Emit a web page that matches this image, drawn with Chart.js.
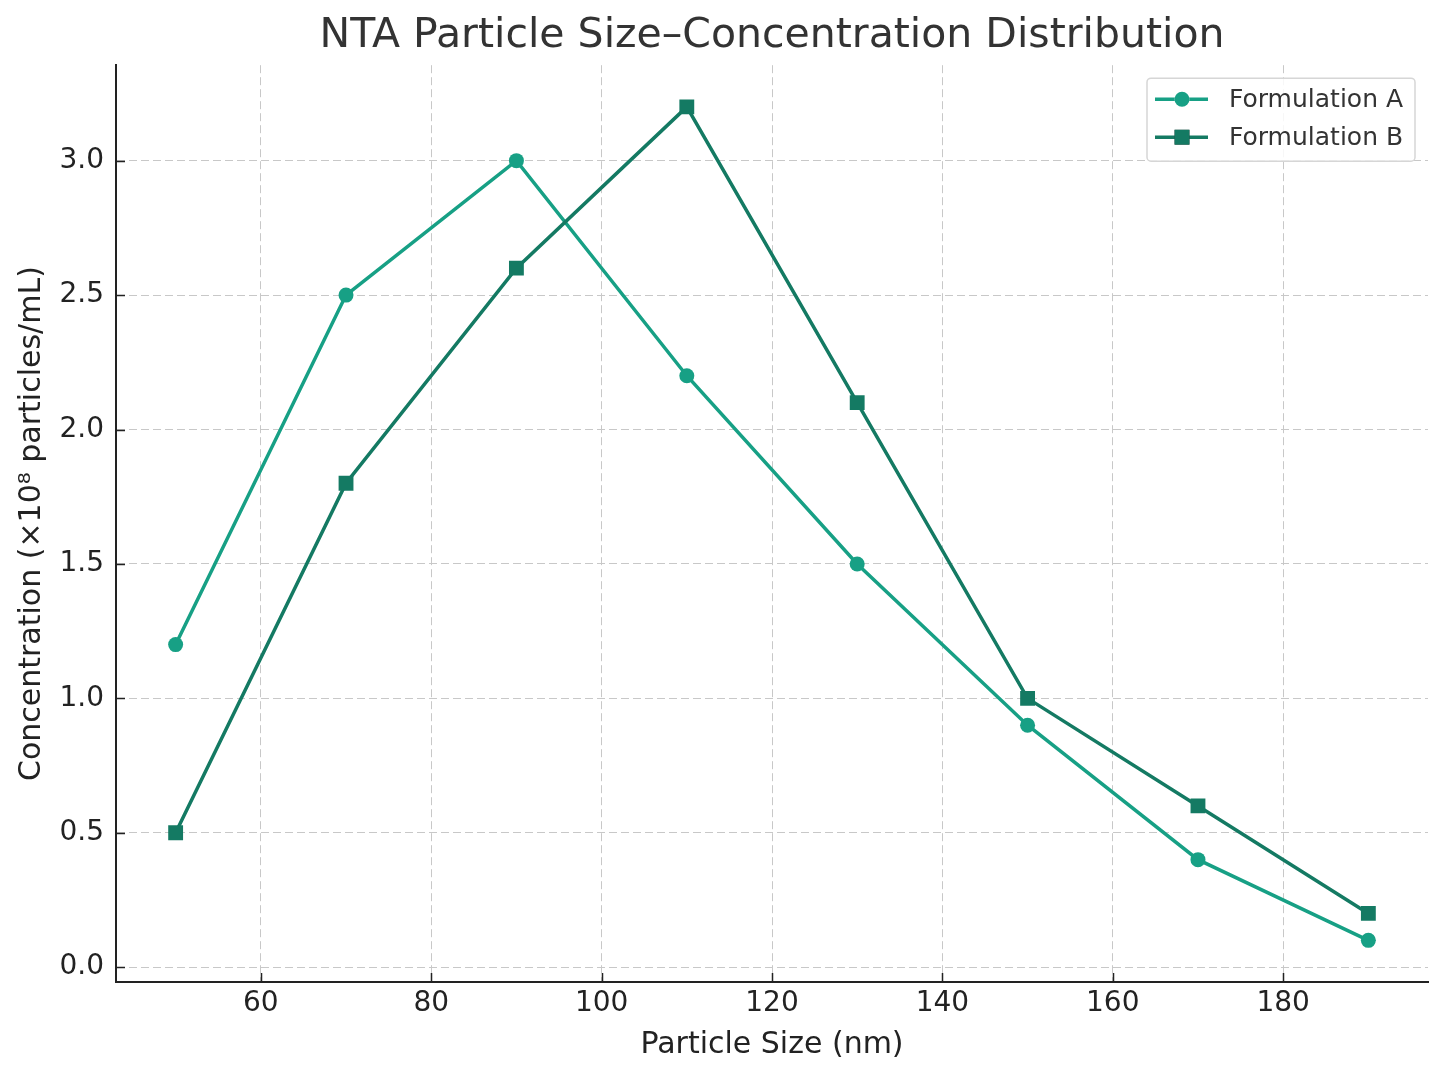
<!DOCTYPE html>
<html>
<head>
<meta charset="utf-8">
<script src="https://cdn.jsdelivr.net/npm/chart.js@4/dist/chart.umd.min.js"></script>
<style>
  html, body { margin: 0; padding: 0; background: #fff; }
  #wrap { width: 1446px; height: 1080px; }
</style>
</head>
<body>
<div id="wrap"><canvas id="chart" width="1446" height="1080"></canvas></div>
<script>
const sizes = [50, 70, 90, 110, 130, 150, 170, 190];
const formulationA = [1.2, 2.5, 3.0, 2.2, 1.5, 0.9, 0.4, 0.1];
const formulationB = [0.5, 1.8, 2.6, 3.2, 2.1, 1.0, 0.6, 0.2];
const xTicks = [60, 80, 100, 120, 140, 160, 180];
const yTicks = [0, 0.5, 1.0, 1.5, 2.0, 2.5, 3.0];

const FONT = "'DejaVu Sans', sans-serif";
const colorA = '#17a085';
const colorB = '#147a63';

function toPoints(ys) {
    return sizes.map((x, i) => ({ x: x, y: ys[i] }));
}

// small tick marks pointing into the plot, like the original
const innerTicks = {
    id: 'innerTicks',
    afterDraw(chart) {
        const ctx = chart.ctx;
        const area = chart.chartArea;
        const xs = chart.scales.x, ys = chart.scales.y;
        ctx.save();
        ctx.strokeStyle = '#222';
        ctx.lineWidth = 1.5;
        ctx.beginPath();
        xTicks.forEach(v => {
            const px = Math.round(xs.getPixelForValue(v)) + 0.5;
            ctx.moveTo(px, area.bottom);
            ctx.lineTo(px, area.bottom - 9);
        });
        yTicks.forEach(v => {
            const py = Math.round(ys.getPixelForValue(v)) + 0.5;
            ctx.moveTo(area.left, py);
            ctx.lineTo(area.left + 9, py);
        });
        ctx.stroke();
        ctx.restore();
    }
};

// matplotlib-like legend box in the upper right of the plot area
const boxLegend = {
    id: 'boxLegend',
    afterDatasetsDraw(chart) {
        const ctx = chart.ctx;
        const area = chart.chartArea;
        const sets = chart.data.datasets;
        const w = 268, h = 83;
        const x0 = area.right - 13 - w;
        const y0 = area.top + 13;
        ctx.save();
        ctx.beginPath();
        ctx.roundRect(x0, y0, w, h, 4);
        ctx.fillStyle = 'rgba(255,255,255,0.85)';
        ctx.fill();
        ctx.strokeStyle = '#d6d6d6';
        ctx.lineWidth = 1.5;
        ctx.stroke();
        ctx.font = '25px ' + FONT;
        ctx.textBaseline = 'middle';
        sets.forEach((ds, i) => {
            const cy = y0 + 21 + i * 38;
            ctx.strokeStyle = ds.borderColor;
            ctx.lineWidth = ds.borderWidth;
            ctx.beginPath();
            ctx.moveTo(x0 + 8, cy);
            ctx.lineTo(x0 + 61, cy);
            ctx.stroke();
            Chart.helpers.drawPoint(ctx, {
                pointStyle: ds.pointStyle,
                radius: ds.pointRadius,
                borderWidth: 0
            }, x0 + 35, cy);
            ctx.fillStyle = ds.backgroundColor;
            ctx.fill();
            ctx.fillStyle = '#333';
            ctx.fillText(ds.label, x0 + 82, cy + 1);
        });
        ctx.restore();
    }
};

new Chart(document.getElementById('chart'), {
    type: 'line',
    data: {
        datasets: [
            {
                label: 'Formulation A',
                data: toPoints(formulationA),
                borderColor: colorA,
                backgroundColor: colorA,
                borderWidth: 3.5,
                pointStyle: 'circle',
                pointRadius: 7.5,
                pointBorderWidth: 0,
                order: 1
            },
            {
                label: 'Formulation B',
                data: toPoints(formulationB),
                borderColor: colorB,
                backgroundColor: colorB,
                borderWidth: 3.5,
                pointStyle: 'rect',
                pointRadius: 10.5,
                pointBorderWidth: 0,
                order: 0
            }
        ]
    },
    options: {
        responsive: false,
        animation: false,
        layout: { padding: { left: 0, right: 18, top: 0, bottom: 0 } },
        plugins: {
            legend: { display: false },
            tooltip: { enabled: false },
            title: {
                display: true,
                fullSize: false,
                text: 'NTA Particle Size\u2013Concentration Distribution',
                color: '#333',
                font: { family: FONT, size: 41, weight: 'normal', lineHeight: 1.2 },
                padding: { top: 12, bottom: 4 }
            }
        },
        scales: {
            x: {
                type: 'linear',
                min: 43,
                max: 197,
                afterBuildTicks: s => { s.ticks = xTicks.map(v => ({ value: v })); },
                afterFit: s => { s.height = 98; },
                grid: { color: '#c8c8c8', lineWidth: 1, drawTicks: false },
                border: { display: true, color: '#222', width: 2, dash: [8, 4] },
                ticks: { color: '#222', font: { family: FONT, size: 28 }, padding: 5, maxRotation: 0 },
                title: {
                    display: true,
                    text: 'Particle Size (nm)',
                    color: '#222',
                    font: { family: FONT, size: 30 },
                    padding: { top: 4, bottom: 17 }
                }
            },
            y: {
                type: 'linear',
                min: -0.055,
                max: 3.355,
                afterBuildTicks: s => { s.ticks = yTicks.map(v => ({ value: v })); },
                afterFit: s => { s.width = 116; },
                grid: { color: '#c8c8c8', lineWidth: 1, drawTicks: false },
                border: { display: true, color: '#222', width: 2, dash: [8, 4] },
                ticks: {
                    color: '#222',
                    font: { family: FONT, size: 28 },
                    padding: 12,
                    callback: v => v.toFixed(1)
                },
                title: {
                    display: true,
                    text: 'Concentration (\u00d710\u2078 particles/mL)',
                    color: '#222',
                    font: { family: FONT, size: 30 },
                    padding: { top: 14, bottom: 0 }
                }
            }
        }
    },
    plugins: [boxLegend, innerTicks]
});
</script>
</body>
</html>
